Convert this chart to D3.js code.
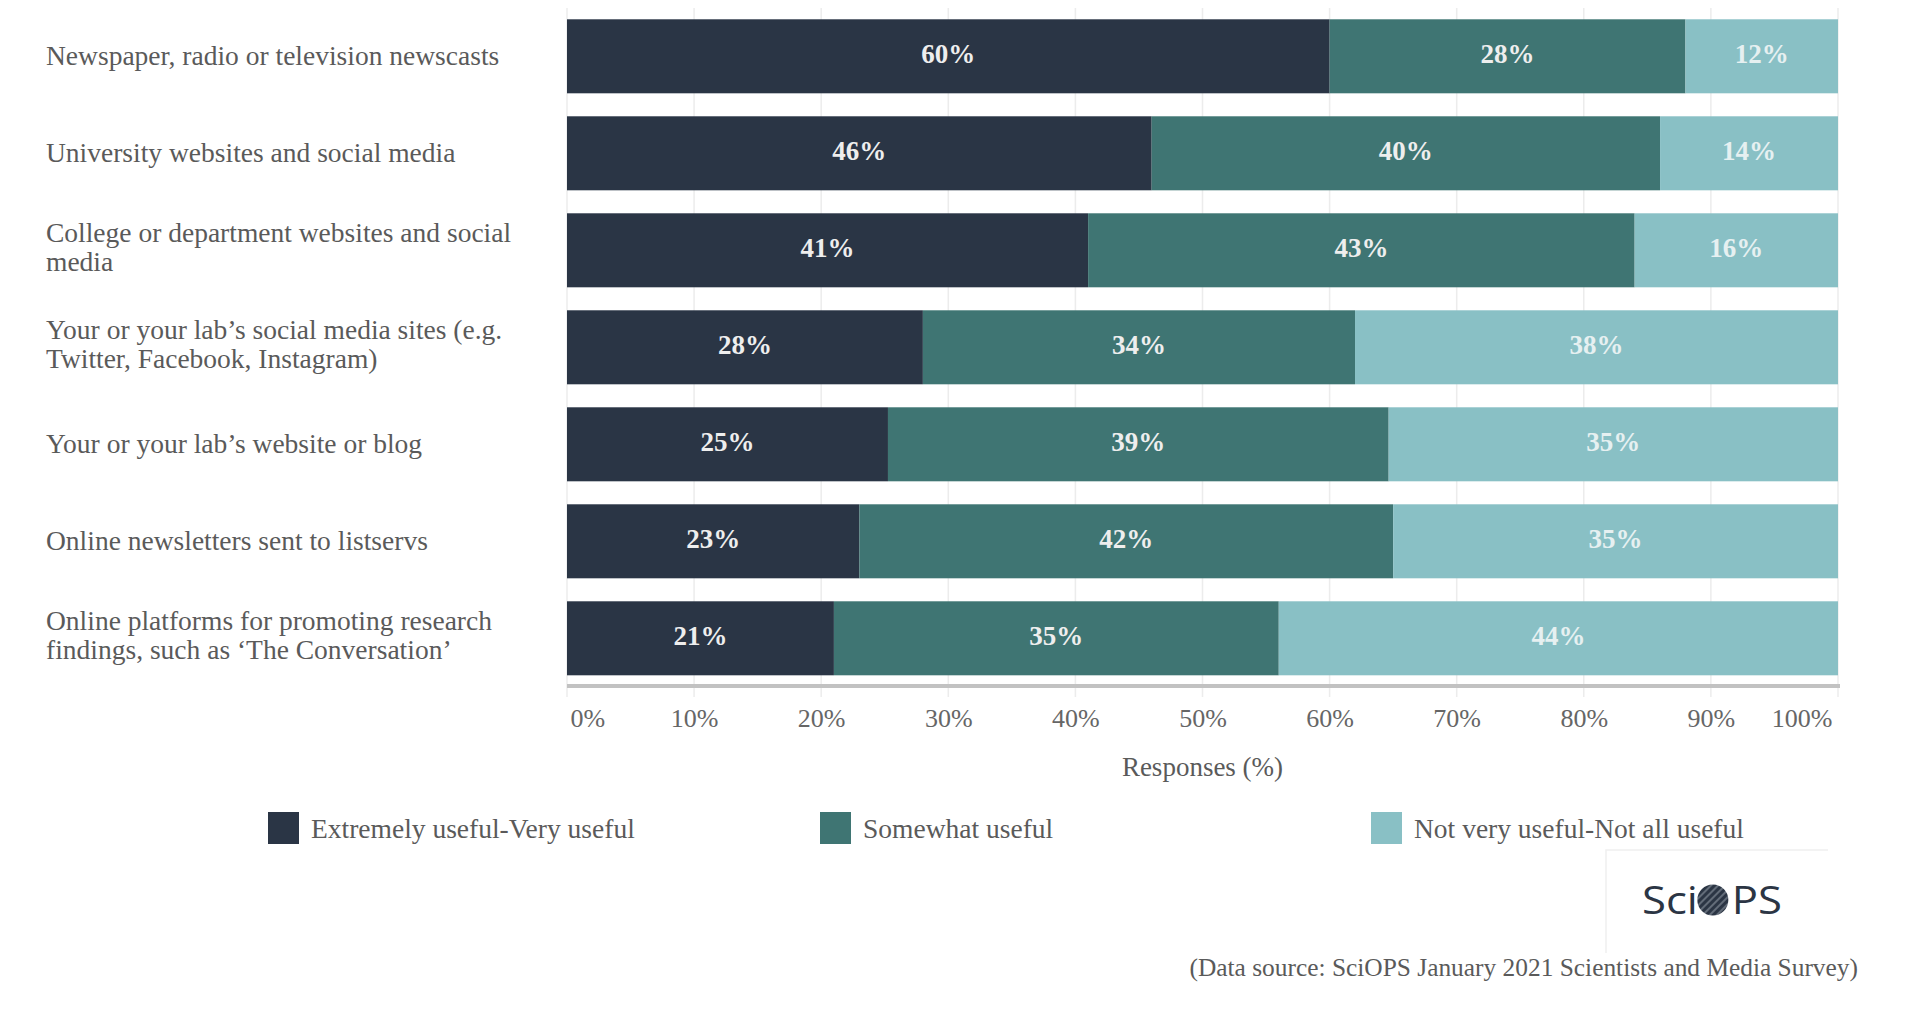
<!DOCTYPE html>
<html>
<head>
<meta charset="utf-8">
<script src="https://cdn.jsdelivr.net/npm/d3@7"></script>
<style>
  body { margin: 0; background: #fff; }
  svg { display: block; }
</style>
</head>
<body>
<svg id="chart"></svg>
<script>
const categories = [
    "Newspaper, radio or television newscasts",
    "University websites and social media",
    "College or department websites and social media",
    "Your or your lab’s social media sites (e.g. Twitter, Facebook, Instagram)",
    "Your or your lab’s website or blog",
    "Online newsletters sent to listservs",
    "Online platforms for promoting research findings, such as ‘The Conversation’"
]
const extremelyUseful = [60, 46, 41, 28, 25, 23, 21]
const somewhatUseful = [28, 40, 43, 34, 39, 42, 35]
const notUseful = [12, 14, 16, 38, 35, 35, 44]
const seriesNames = ["Extremely useful-Very useful", "Somewhat useful", "Not very useful-Not all useful"]
const seriesColors = ["#2a3545", "#3f7573", "#89c0c5"]
const tickValues = [0, 0.1, 0.2, 0.3, 0.4, 0.5, 0.6, 0.7, 0.8, 0.9, 1]

const W = 1918, H = 1032
const serif = "'Liberation Serif', 'Times New Roman', serif"

const rows = categories.map((c, i) => ({
    cat: c,
    [seriesNames[0]]: extremelyUseful[i],
    [seriesNames[1]]: somewhatUseful[i],
    [seriesNames[2]]: notUseful[i],
}))

const stacked = d3.stack()
    .keys(seriesNames)
    .offset(d3.stackOffsetExpand)(rows)

const svg = d3.select("#chart").attr("width", W).attr("height", H)

const x = d3.scaleLinear().domain([0, 1]).range([567, 1838])
const y = d3.scaleBand().domain(categories)
    .range([7.8, 686.8])
    .paddingInner(0.237)
    .paddingOuter(0.1185)
const color = d3.scaleOrdinal().domain(seriesNames).range(seriesColors)

// grid
svg.append("g")
    .selectAll("line")
    .data(tickValues)
    .enter()
    .append("line")
    .attr("x1", (d) => x(d))
    .attr("x2", (d) => x(d))
    .attr("y1", 8)
    .attr("y2", 697)
    .attr("stroke", "#ececec")
    .attr("stroke-width", 1.5)

// bars
const layer = svg.append("g")
    .selectAll("g")
    .data(stacked)
    .enter()
    .append("g")
    .attr("fill", (d) => color(d.key))

layer.selectAll("rect")
    .data((d) => d)
    .enter()
    .append("rect")
    .attr("x", (d) => x(d[0]))
    .attr("width", (d) => x(d[1]) - x(d[0]))
    .attr("y", (d) => y(d.data.cat))
    .attr("height", y.bandwidth())

// value labels
stacked.forEach((s) => {
    svg.append("g")
        .selectAll("text")
        .data(s)
        .enter()
        .append("text")
        .text((d) => d.data[s.key] + "%")
        .attr("x", (d) => (x(d[0]) + x(d[1])) / 2)
        .attr("y", (d) => y(d.data.cat) + y.bandwidth() / 2 + 7)
        .attr("text-anchor", "middle")
        .attr("font-family", serif)
        .attr("font-weight", "bold")
        .attr("font-size", 27)
        .attr("fill", s.key === seriesNames[2] ? "#e6f0f1" : "#eeeeee")
})

// axis baseline
svg.append("line")
    .attr("x1", x(0)).attr("x2", x(1) + 2)
    .attr("y1", 686).attr("y2", 686)
    .attr("stroke", "#c2c2c2")
    .attr("stroke-width", 4)

// tick labels
const axis = svg.append("g")
    .attr("transform", "translate(0,686)")
    .call(d3.axisBottom(x).tickValues(tickValues).tickSize(0).tickPadding(23).tickFormat(d3.format(".0%")))
axis.select(".domain").remove()
axis.selectAll("text")
    .attr("font-family", serif)
    .attr("font-size", 26)
    .attr("fill", "#666")
    .attr("text-anchor", (d) => d === 0 ? "start" : d === 1 ? "end" : "middle")
    .attr("dx", (d) => d === 0 ? 3 : d === 1 ? -6 : 0)

svg.append("text")
    .text("Responses (%)")
    .attr("x", (x(0) + x(1)) / 2)
    .attr("y", 776)
    .attr("text-anchor", "middle")
    .attr("font-family", serif)
    .attr("font-size", 27)
    .attr("fill", "#5a5a5a")

// category labels, wrapped
const catLabels = svg.append("g")
    .selectAll("text")
    .data(categories)
    .enter()
    .append("text")
    .attr("font-family", serif)
    .attr("font-size", 27.5)
    .attr("fill", "#5a5a5a")

catLabels.each(function (d) {
    const t = d3.select(this)
    const words = d.split(" ")
    const lines = []
    let line = []
    const probe = t.append("tspan")
    words.forEach((w) => {
        line.push(w)
        probe.text(line.join(" "))
        if (probe.node().getComputedTextLength() > 478 && line.length > 1) {
            line.pop()
            lines.push(line.join(" "))
            line = [w]
        }
    })
    lines.push(line.join(" "))
    probe.remove()
    const cy = y(d) + y.bandwidth() / 2
    const base = lines.length === 1 ? [cy + 9] : [cy - 8, cy + 21]
    lines.forEach((l, i) => {
        t.append("tspan").attr("x", 46).attr("y", base[i]).text(l)
    })
})

// legend
const legendX = [268, 820, 1371]
const legend = svg.append("g")
    .selectAll("g")
    .data(seriesNames)
    .enter()
    .append("g")
    .attr("transform", (d, i) => "translate(" + legendX[i] + ",812)")
legend.append("rect")
    .attr("width", 31)
    .attr("height", 32)
    .attr("fill", (d) => color(d))
legend.append("text")
    .text((d) => d)
    .attr("x", 43)
    .attr("y", 26)
    .attr("font-family", serif)
    .attr("font-size", 27.5)
    .attr("fill", "#5a5a5a")

// logo box
svg.append("path")
    .attr("d", "M1606,953 L1606,850 L1828,850")
    .attr("fill", "none")
    .attr("stroke", "#f0f0f0")
    .attr("stroke-width", 1.5)

const defs = svg.append("defs")
const pat = defs.append("pattern")
    .attr("id", "hatch")
    .attr("patternUnits", "userSpaceOnUse")
    .attr("width", 5).attr("height", 5)
    .attr("patternTransform", "rotate(-45)")
pat.append("rect").attr("width", 5).attr("height", 5).attr("fill", "#2b3544")
pat.append("line").attr("x1", 0).attr("x2", 5).attr("y1", 1).attr("y2", 1)
    .attr("stroke", "#9aa3ad").attr("stroke-width", 1)

const logo = svg.append("text")
    .attr("x", 1642)
    .attr("y", 914)
    .attr("font-family", "'Open Sans', 'DejaVu Sans', sans-serif")
    .attr("font-size", 38)
    .attr("fill", "#2b3544")
    .attr("textLength", 140)
    .attr("lengthAdjust", "spacingAndGlyphs")
logo.append("tspan").text("Sci")
logo.append("tspan").text("O").attr("fill", "none")
logo.append("tspan").text("PS")
const ob = logo.node().getExtentOfChar(3)
svg.append("circle")
    .attr("cx", ob.x + ob.width / 2 - 2)
    .attr("cy", 900)
    .attr("r", 15.5)
    .attr("fill", "url(#hatch)")

svg.append("text")
    .text("(Data source: SciOPS January 2021 Scientists and Media Survey)")
    .attr("x", 1858)
    .attr("y", 976)
    .attr("text-anchor", "end")
    .attr("font-family", serif)
    .attr("font-size", 25.4)
    .attr("fill", "#5a5a5a")
</script>
</body>
</html>
